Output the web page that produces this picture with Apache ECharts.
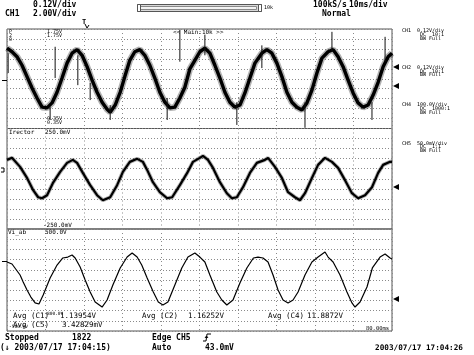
<!DOCTYPE html>
<html>
<head>
<meta charset="utf-8">
<script src="https://cdn.jsdelivr.net/npm/echarts@6/dist/echarts.min.js"></script>
<style>
html,body{margin:0;padding:0;background:#fff;}
#c{width:474px;height:355px;}
</style>
</head>
<body>
<div id="c"></div>
<script>
// ---- Data (time in ms, 10 ms/div) ----
// Zone 1: CH1/CH2 (V), zone spans 0.35 V .. 1.75 V
const topTimes = [0,1.3,2.6,3.9,5.2,6.5,7.8,9.1,10.4,11.7,13,14.3,15.6,16.9,18.2,19.5,20.8,22.1,23.4,24.7,26,26.8,28.1,29.4,30.6,31.9,33.2,34.5,35.8,37.1,38.4,39.7,41,42.3,43.6,44.9,46.2,47.5,48.8,50.1,51.4,52.7,54,55.3,56.6,57.9,59.2,60.5,61.8,63.1,64.4,66.2,67.5,68.8,70.1,71.4,72.7,74,75.3,76.6,77.9,79.2,80.5,81.8,83.4,84.7,86,87.3,88.6,89.9,91.2,92.5,93.8,95.1,96.4,97.7,99,100];
const topVolts = [1.48,1.43,1.36,1.24,1.08,0.92,0.78,0.65,0.64,0.71,0.86,1.06,1.27,1.41,1.46,1.38,1.22,1.03,0.86,0.72,0.62,0.58,0.68,0.86,1.08,1.31,1.43,1.46,1.38,1.24,1.06,0.86,0.72,0.64,0.65,0.78,0.93,1.19,1.31,1.43,1.48,1.41,1.24,1.06,0.86,0.72,0.65,0.68,0.85,1.06,1.27,1.41,1.46,1.41,1.27,1.08,0.86,0.72,0.65,0.61,0.71,0.89,1.13,1.34,1.43,1.46,1.36,1.22,1.03,0.85,0.71,0.65,0.68,0.82,1.00,1.22,1.36,1.41];
// Noise spikes on CH1: [time ms, low V, high V]
const topSpikes = [[0.3,1.13,1.41],[11.2,0.47,0.65],[12.5,1.06,1.50],[18.4,0.96,1.38],[21.6,0.75,0.99],[26.8,0.47,0.68],[41.6,0.47,0.78],[44.9,1.29,1.74],[51.4,1.38,1.67],[59.7,0.40,0.72],[66.2,1.20,1.52],[77.4,0.36,0.72],[84.4,1.43,1.71],[94.8,0.47,0.72],[98.2,1.29,1.64]];
const topZone = {min:0.35, max:1.75};

// Zone 2: Irector, CH5 (mV), 50 mV/div
const midTimes = [0,1.3,3.4,5.2,6.8,8.1,9.1,10.4,11.9,13.8,15.6,17.1,18.2,19.7,21.6,23.4,24.9,26.8,28.6,30.1,31.9,33.8,35.3,36.4,37.9,39.7,41.6,42.9,44.9,46.8,48.3,50.1,50.9,52.2,53.5,55.3,57.1,58.4,59.7,61.3,63.1,64.9,67.0,67.8,69.6,71.4,73,74.8,76.1,77.4,79.2,80.8,82.6,84.4,86,87.8,89.6,91.2,93,94.8,96.4,97.7,99.5,100];
const midMilliVolts = [94,104,59,4,-57,-92,-97,-82,-22,34,79,94,79,29,-32,-82,-107,-92,-32,34,84,99,84,44,-17,-67,-97,-92,-32,29,84,104,114,94,54,-17,-72,-97,-92,-42,29,79,94,104,59,4,-67,-92,-107,-72,4,69,104,84,54,-7,-72,-97,-82,-42,29,69,84,84];
const midZone = {min:-250, max:250};

// Zone 3: Vi_ab, CH4 (V), 100 V/div
const botTimes = [0,1.3,3.4,4.2,5.2,6.2,7.3,8.3,9.4,11.2,13,14.5,15.8,16.9,17.7,19,20.3,21.6,22.9,24.7,26,27.5,29.4,31.2,32.5,33.8,35,36.4,38,39.3,40.5,41.8,43.6,45.4,47,48.8,50.1,51.4,52.7,54.5,55.8,57.1,58.7,60.5,62.3,64,65.2,66.5,67.8,69.1,70.4,71.7,73,74.3,75.6,77.4,79.2,80.8,82.6,83.4,84.7,86.5,88.3,89.6,90.4,91.7,93.5,94.9,96.9,98.2,99.5,100];
const botVolts = [176,157,49,-20,-98,-167,-225,-235,-147,20,147,216,225,245,216,127,0,-118,-216,-265,-196,-49,118,225,265,225,147,20,-118,-216,-245,-216,-49,118,225,265,225,176,49,-118,-196,-245,-196,-29,118,216,225,216,176,49,-98,-196,-225,-196,-118,49,176,225,274,225,176,49,-118,-225,-265,-216,-69,118,225,255,216,206];
const botZone = {min:-500, max:500};

// Measurements / labels
const avgLabels = ["Avg (C1)","Avg (C2)","Avg (C4)","Avg (C5)"];
const avgValues = ["1.13954V","1.16252V","11.8872V","3.42829mV"];
const chanNames = ["CH1","CH2","CH4","CH5"];
const chanScales = ["0.12V/div","0.12V/div","100.0V/div","50.0mV/div"];
const chanProbes = ["DC  10:1","DC  10:1","DC  1000:1","DC  1:1"];

// ---- build ----
const toDiv = (v, z) => (v - (z.min + z.max) / 2) / ((z.max - z.min) / 10);
const pairs = (ts, vs, z) => ts.map((t, i) => [t, toDiv(vs[i], z)]);

const gridL = 7, gridW = 385;
const grids = [
  {left: gridL, top: 29, width: gridW, height: 99.5},
  {left: gridL, top: 128.5, width: gridW, height: 100.5},
  {left: gridL, top: 229, width: gridW, height: 102}
].map(g => Object.assign(g, {show: true, borderColor: '#555', borderWidth: 1, backgroundColor: 'transparent'}));

const dotted = (type) => ({show: true, lineStyle: {color: '#8a8a8a', width: 1, type: type}});
const xAxes = [0,1,2].map(i => ({type: 'value', gridIndex: i, min: 0, max: 100, interval: 10,
  axisLabel: {show: false}, axisTick: {show: false}, axisLine: {show: false}, splitLine: dotted([1,3])}));
const yAxes = [0,1,2].map(i => ({type: 'value', gridIndex: i, min: -5, max: 5, interval: 1,
  axisLabel: {show: false}, axisTick: {show: false}, axisLine: {show: false}, splitLine: dotted([1,2])}));

const topData = pairs(topTimes, topVolts, topZone);
const spikeData = topSpikes.map(s => [s[0], toDiv(s[1], topZone), toDiv(s[2], topZone)]);

const series = [
  {name: 'CH1 noise', type: 'line', xAxisIndex: 0, yAxisIndex: 0, data: topData, symbol: 'none',
   lineStyle: {color: 'rgba(0,0,0,0.3)', width: 6.5}, z: 2},
  {name: 'CH1/CH2', type: 'line', xAxisIndex: 0, yAxisIndex: 0, data: topData, symbol: 'none',
   lineStyle: {color: '#000', width: 3.4}, z: 3},
  {name: 'CH1 spikes', type: 'custom', xAxisIndex: 0, yAxisIndex: 0, data: spikeData,
   renderItem: function (params, api) {
     const a = api.coord([api.value(0), api.value(1)]);
     const b = api.coord([api.value(0), api.value(2)]);
     return {type: 'line', shape: {x1: a[0], y1: a[1], x2: b[0], y2: b[1]}, style: {stroke: '#111', lineWidth: 1}};
   }, z: 4},
  {name: 'CH5 halo', type: 'line', xAxisIndex: 1, yAxisIndex: 1, data: pairs(midTimes, midMilliVolts, midZone), symbol: 'none',
   lineStyle: {color: 'rgba(0,0,0,0.3)', width: 4}, z: 2},
  {name: 'CH5', type: 'line', xAxisIndex: 1, yAxisIndex: 1, data: pairs(midTimes, midMilliVolts, midZone), symbol: 'none',
   lineStyle: {color: '#000', width: 2.2}, z: 3},
  {name: 'CH4', type: 'line', xAxisIndex: 2, yAxisIndex: 2, data: pairs(botTimes, botVolts, botZone), symbol: 'none',
   lineStyle: {color: '#000', width: 1.2}, z: 3}
];

const MONO = '"DejaVu Sans Mono", "Liberation Mono", monospace';
const T = (x, y, text, size, bold, extra) => Object.assign({type: 'text', x: x, y: y, silent: true, z: 10,
  style: {text: text, font: (bold ? 'bold ' : '') + size + 'px ' + MONO, fill: '#000', verticalAlign: 'middle', align: 'left'}}, extra || {});

const g = [];
// header
g.push(T(33, 5, '0.12V/div', 8, true));
g.push(T(5, 14, 'CH1', 8, true));
g.push(T(33, 14, '2.00V/div', 8, true));
g.push(T(313, 5, '100kS/s', 8, true));
g.push(T(349, 5, '10ms/div', 8, true));
g.push(T(322, 14, 'Normal', 8, true));
// record bar
g.push({type: 'rect', silent: true, shape: {x: 137.5, y: 4.5, width: 124, height: 7}, style: {fill: '#d8d8d8', stroke: '#555', lineWidth: 1}});
g.push({type: 'rect', silent: true, shape: {x: 140.5, y: 6.5, width: 116, height: 3}, style: {fill: '#f2f2f2', stroke: '#888', lineWidth: 1}});
g.push({type: 'rect', silent: true, shape: {x: 137.5, y: 4.5, width: 3, height: 7}, style: {fill: '#fff', stroke: '#555', lineWidth: 1}});
g.push({type: 'rect', silent: true, shape: {x: 258.5, y: 4.5, width: 3, height: 7}, style: {fill: '#fff', stroke: '#555', lineWidth: 1}});
g.push(T(264, 8, '10k', 5, false));
// trigger position marker
g.push(T(82, 22, 'T', 7, true));
g.push({type: 'polyline', silent: true, shape: {points: [[85, 24], [87, 28], [89, 25]]}, style: {stroke: '#000', lineWidth: 1, fill: null}});
// zone 1 labels
g.push(T(9, 31.5, 'P', 5, false));
g.push(T(9, 35.5, '2', 5, false));
g.push(T(9, 39.5, '0', 5, false));
g.push(T(47, 31.5, '1.75V', 5, false));
g.push(T(47, 35.5, '1.75V', 5, false));
g.push(T(47, 119, '0.35V', 5, false));
g.push(T(47, 123, '0.35V', 5, false));
g.push(T(173, 32, '<< Main:10k >>', 6, false));
// zone 2 labels
g.push(T(9, 132, 'Irector', 6, false));
g.push(T(45, 132, '250.0mV', 6, false));
g.push(T(43, 225, '-250.0mV', 6, false));
// zone 3 labels
g.push(T(8, 232, 'Vi_ab', 6, false));
g.push(T(45, 232, '500.0V', 6, false));
// measurements
const avgPos = [[13, 60, 316], [142, 188, 316], [268, 307, 316], [13, 62, 325]];
avgPos.forEach((p, i) => { g.push(T(p[0], p[2], avgLabels[i], 7.5, false)); g.push(T(p[1], p[2], avgValues[i], 7.5, false)); });
g.push(T(47, 314, '800.0V', 4.5, false));
g.push(T(9, 327, '-500.0V', 4.5, false));
g.push(T(366, 329, '80.00ms', 5.5, false));
// right side channel info
const chanY = [31, 67.7, 105, 143.5];
chanY.forEach((y, i) => {
  g.push(T(402, y, chanNames[i], 5, false));
  g.push(T(417, y, chanScales[i], 5, false));
  g.push(T(420, y + 3.7, chanProbes[i], 5, false));
  g.push(T(420, y + 7.4, 'BW Full', 5, false));
});
// right level markers
[67, 86, 187, 299].forEach(y => g.push({type: 'polygon', silent: true, shape: {points: [[393, y], [399, y - 3], [399, y + 3]]}, style: {fill: '#000'}}));
// left markers
g.push({type: 'line', silent: true, shape: {x1: 2, y1: 80.5, x2: 7, y2: 80.5}, style: {stroke: '#000', lineWidth: 1}});
g.push({type: 'polyline', silent: true, shape: {points: [[1, 168], [4, 168], [4, 172], [1, 172]]}, style: {stroke: '#000', lineWidth: 1, fill: null}});
g.push(T(0, 183, '4', 5, false, {rotation: Math.PI / 2, originX: 2, originY: 183}));
g.push(T(0, 284, '4', 5, false, {rotation: Math.PI / 2, originX: 2, originY: 284}));
g.push({type: 'line', silent: true, shape: {x1: 2, y1: 261.5, x2: 7, y2: 261.5}, style: {stroke: '#000', lineWidth: 1}});
// footer
g.push(T(5, 338, 'Stopped', 8, true));
g.push(T(72, 338, '1822', 8, true));
g.push(T(152, 338, 'Edge CH5', 8, true));
g.push({type: 'polyline', silent: true, shape: {points: [[203, 341], [206, 341], [207, 334], [211, 334]]}, style: {stroke: '#000', lineWidth: 1, fill: null}});
g.push({type: 'polyline', silent: true, shape: {points: [[205, 338], [206.5, 336], [208, 338]]}, style: {stroke: '#000', lineWidth: 1, fill: null}});
g.push(T(0, 348, '(\u2193 2003/07/17 17:04:15)', 8, true));
g.push(T(152, 348, 'Auto', 8, true));
g.push(T(205, 348, '43.0mV', 8, true));
g.push(T(375, 348, '2003/07/17 17:04:26', 7.7, true));

const chart = echarts.init(document.getElementById('c'), null, {renderer: 'canvas'});
chart.setOption({
  animation: false,
  backgroundColor: '#fff',
  grid: grids,
  xAxis: xAxes,
  yAxis: yAxes,
  series: series,
  graphic: g
});
</script>
</body>
</html>
